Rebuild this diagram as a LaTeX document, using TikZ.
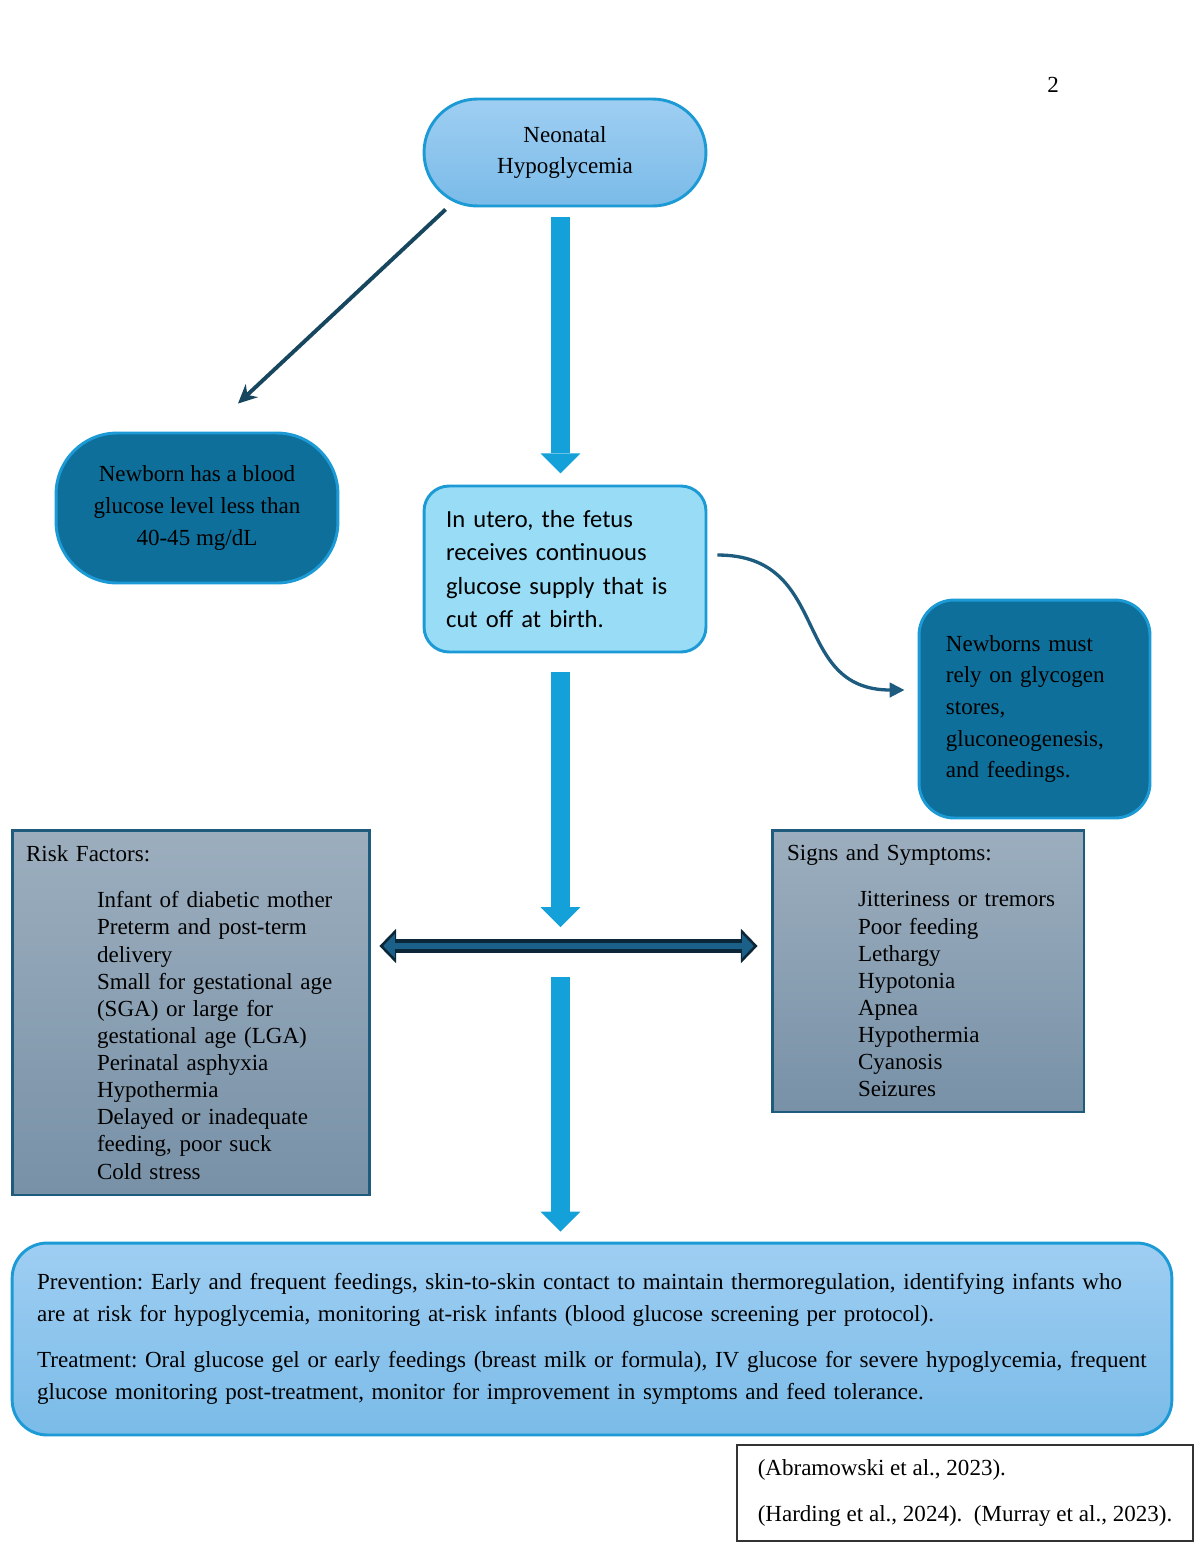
\documentclass[tikz,border=0pt]{standalone}
\usepackage{fontspec}
\setmainfont{Liberation Serif}
\newfontfamily\aptosfont{Carlito}
\usepackage{tikz}
\usetikzlibrary{arrows.meta}
\frenchspacing

\definecolor{pillTop}{HTML}{9FCEF2}
\definecolor{pillBot}{HTML}{7ABBE8}
\definecolor{edgeBlue}{HTML}{1C9AD6}
\definecolor{uteroFill}{HTML}{98DCF6}
\definecolor{darkFill}{HTML}{0E6F9A}
\definecolor{flowBlue}{HTML}{14A0D8}
\definecolor{greyTop}{HTML}{9CAEBE}
\definecolor{greyBot}{HTML}{7891A7}
\definecolor{greyEdge}{HTML}{1E5B7D}
\definecolor{navy}{HTML}{0B2636}
\definecolor{steel}{HTML}{1A6088}
\definecolor{tealLine}{HTML}{17465F}
\definecolor{curveLine}{HTML}{1D5B7F}

\tikzset{
   bodytext/.style={font=\fontsize{11.8}{16.2}\selectfont},
   listtext/.style={font=\fontsize{11.8}{13.9}\selectfont},
   pill/.style={draw=edgeBlue, line width=1.5pt, top color=pillTop, bottom color=pillBot,
      align=center, inner sep=0pt, bodytext},
   darkbox/.style={draw=edgeBlue, line width=1.5pt, fill=darkFill, inner sep=0pt, bodytext},
   greybox/.style={draw=greyEdge, line width=1.5pt, top color=greyTop, bottom color=greyBot,
      align=left, inner sep=0pt, listtext},
   flow/.style={draw=flowBlue, line width=0.342cm,
      -{Triangle[width=0.72cm, length=0.36cm, line width=0pt]}},
}

\begin{document}
\begin{tikzpicture}[x=0.018cm, y=-0.018cm]
   \useasboundingbox (0,0) rectangle (1200,1553);
   % Page number
   \node [bodytext] (pagenum) at (1053,85) {2};
   % Boxes
   \node [pill, minimum width=5.076cm, minimum height=1.926cm, rounded corners=0.96cm]
      (nh) at (565,152.5) {Neonatal\\Hypoglycemia};
   \node [darkbox, align=center, minimum width=5.076cm, minimum height=2.7cm, rounded corners=1.1cm]
      (nb) at (197,508) {Newborn has a blood\\glucose level less than\\40-45 mg/dL};
   \node [draw=edgeBlue, line width=1.5pt, fill=uteroFill, rounded corners=0.45cm,
      minimum width=5.076cm, minimum height=2.988cm, inner sep=0pt, align=left,
      text width=4.28cm, font=\aptosfont\fontsize{12.6}{17.2}\selectfont]
      (utero) at (565,569) {In utero, the fetus\\receives continuous\\glucose supply that is\\cut off at birth.};
   \node [darkbox, align=left, text width=3.19cm, minimum width=4.158cm, minimum height=3.924cm,
      rounded corners=0.63cm]
      (glyco) at (1034.5,709) {Newborns must\\rely on glycogen\\stores,\\gluconeogenesis,\\and feedings.};
   \node [greybox, text width=5.94cm, minimum width=6.444cm, minimum height=6.57cm]
      (risk) at (191,1012.5) {Risk Factors:\\[0.34cm]
      \hspace*{1.278cm}Infant of diabetic mother\\
      \hspace*{1.278cm}Preterm and post-term\\
      \hspace*{1.278cm}delivery\\
      \hspace*{1.278cm}Small for gestational age\\
      \hspace*{1.278cm}(SGA) or large for\\
      \hspace*{1.278cm}gestational age (LGA)\\
      \hspace*{1.278cm}Perinatal asphyxia\\
      \hspace*{1.278cm}Hypothermia\\
      \hspace*{1.278cm}Delayed or inadequate\\
      \hspace*{1.278cm}feeding, poor suck\\
      \hspace*{1.278cm}Cold stress};
   \node [greybox, text width=5.076cm, minimum width=5.616cm, minimum height=5.076cm]
      (signs) at (928,971) {Signs and Symptoms:\\[0.34cm]
      \hspace*{1.278cm}Jitteriness or tremors\\
      \hspace*{1.278cm}Poor feeding\\
      \hspace*{1.278cm}Lethargy\\
      \hspace*{1.278cm}Hypotonia\\
      \hspace*{1.278cm}Apnea\\
      \hspace*{1.278cm}Hypothermia\\
      \hspace*{1.278cm}Cyanosis\\
      \hspace*{1.278cm}Seizures};
   \node [pill, align=left, text width=19.98cm, minimum width=20.88cm, minimum height=3.456cm,
      rounded corners=0.63cm]
      (care) at (592,1339) {Prevention: Early and frequent feedings, skin-to-skin contact to maintain thermoregulation, identifying infants who\\
      are at risk for hypoglycemia, monitoring at-risk infants (blood glucose screening per protocol).\\[0.27cm]
      Treatment: Oral glucose gel or early feedings (breast milk or formula), IV glucose for severe hypoglycemia, frequent\\
      glucose monitoring post-treatment, monitor for improvement in symptoms and feed tolerance.};
   \node [draw=black!80, line width=0.8pt, align=left, minimum width=8.208cm,
      minimum height=1.728cm, inner sep=0pt, bodytext]
      (cite) at (965,1493) {(Abramowski et al., 2023).\\[0.26cm]
      (Harding et al., 2024).\ \ (Murray et al., 2023).};
   % Centre of the double arrow
   \coordinate (mid) at (560.5,946);
   % Thick blue arrows
   \draw [flow, shorten <=0.18cm, shorten >=0.2cm] (mid |- nh.south) -- (mid |- utero.north);
   \draw [flow, shorten <=0.342cm, shorten >=0.342cm] (mid |- utero.south) -- (mid);
   \draw [flow, shorten <=0.558cm, shorten >=0.18cm] (mid) -- (mid |- care.north);
   % Double arrow
   \draw [navy, line width=0.24cm, shorten <=0.144cm, shorten >=0.234cm,
      {Triangle[width=0.62cm, length=0.3cm, line width=0pt]}-{Triangle[width=0.62cm, length=0.3cm, line width=0pt]}]
      (risk.east |- mid) -- (signs.west |- mid);
   \draw [steel, line width=0.12cm, shorten <=0.214cm, shorten >=0.304cm,
      {Triangle[width=0.44cm, length=0.21cm, line width=0pt]}-{Triangle[width=0.44cm, length=0.21cm, line width=0pt]}]
      (risk.east |- mid) -- (signs.west |- mid);
   % Thin arrows
   \draw [tealLine, line width=2pt, -{Stealth[length=0.34cm, width=0.32cm]}]
      ([xshift=0.414cm, yshift=-0.036cm]nh.south west) -- ([xshift=0.738cm, yshift=0.504cm]nb.north);
   \draw [curveLine, line width=1.7pt, -{Triangle[length=0.27cm, width=0.26cm]}]
      ([xshift=0.18cm, yshift=0.252cm]utero.east) .. controls +(115,0) and +(-115,0) ..
      ([xshift=-0.234cm, yshift=0.342cm]glyco.west);
\end{tikzpicture}
\end{document}
